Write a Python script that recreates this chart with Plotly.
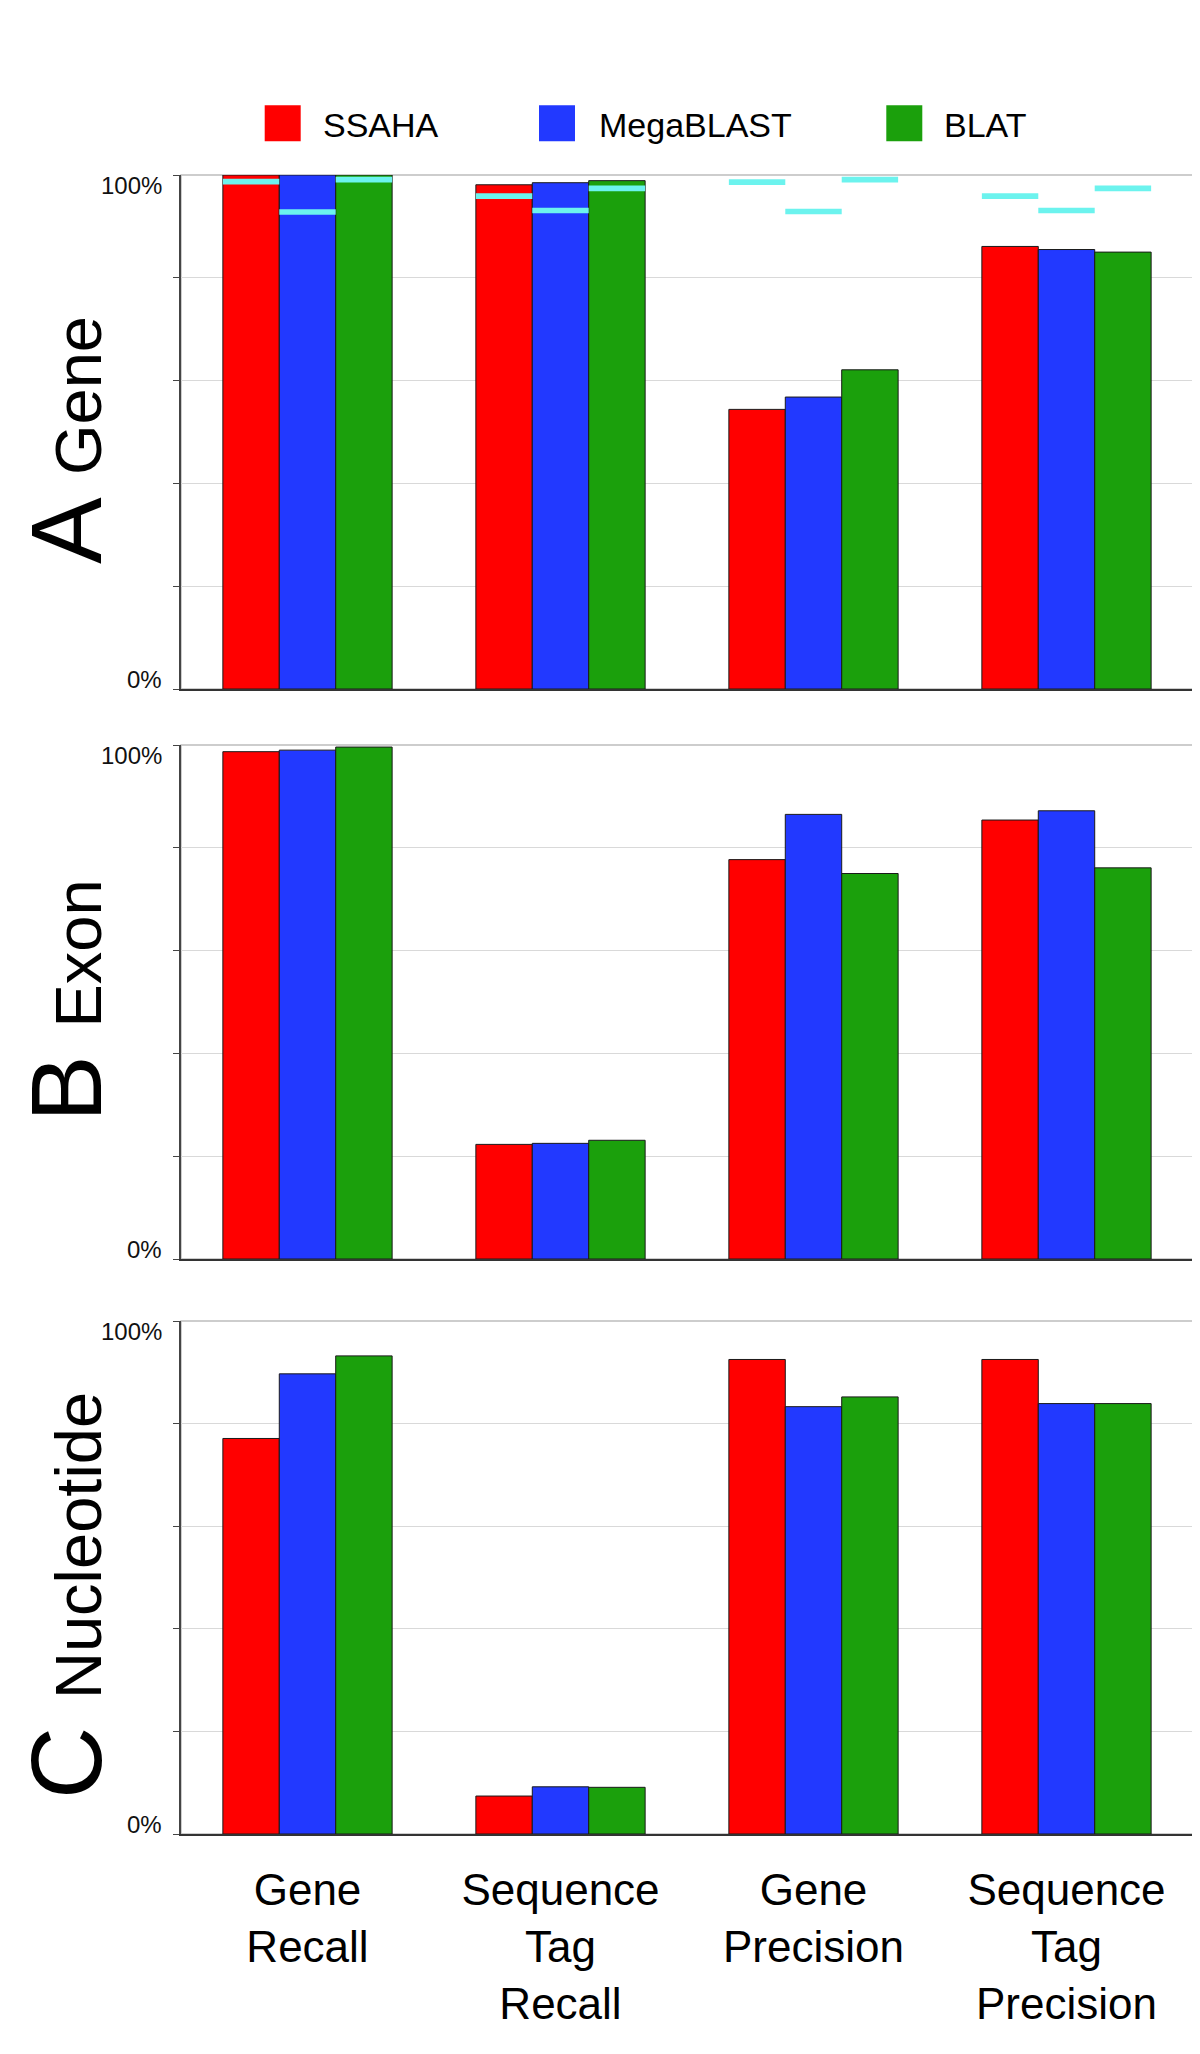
import plotly.graph_objects as go

categories = ["Gene<br>Recall", "Sequence<br>Tag<br>Recall", "Gene<br>Precision", "Sequence<br>Tag<br>Precision"]
tools = ["SSAHA", "MegaBLAST", "BLAT"]
tool_colors = ["#FF0000", "#2239FF", "#1BA00C"]
mark_color = "#6CF3EE"

# panel A - gene level, bars plus the cyan reference marks
gene_ssaha = [100.0, 98.1, 54.4, 86.1]
gene_megablast = [100.0, 98.5, 56.8, 85.5]
gene_blat = [100.0, 98.9, 62.1, 85.0]
gene_mark_ssaha = [98.7, 95.9, 98.6, 95.9]
gene_mark_megablast = [92.8, 93.1, 92.9, 93.1]
gene_mark_blat = [99.1, 97.4, 99.1, 97.4]

# panel B - exon level
exon_ssaha = [98.7, 22.3, 77.7, 85.4]
exon_megablast = [99.0, 22.5, 86.5, 87.2]
exon_blat = [99.6, 23.1, 75.0, 76.1]

# panel C - nucleotide level
nucleotide_ssaha = [77.1, 7.4, 92.5, 92.5]
nucleotide_megablast = [89.7, 9.2, 83.3, 83.9]
nucleotide_blat = [93.2, 9.1, 85.2, 83.9]

panel_letters = ["A", "B", "C"]
panel_names = ["Gene", "Exon", "Nucleotide"]
y_tickvals = [0, 20, 40, 60, 80, 100]
y_end_labels = ["0%", "100%"]

FONT = "Liberation Sans, Arial, Helvetica, sans-serif"

W, H = 1200, 2054
L, R, T, B = 173, 15, 167, 228
plot_w = W - L - R
plot_h = H - T - B


def paper_x(x):
    return (x - L) / plot_w


def paper_y(y):
    return (H - B - y) / plot_h


domains = [
    [paper_y(681), 1.0],
    [paper_y(1251), paper_y(737)],
    [0.0, paper_y(1313)],
]
label_centers = [432, 993, 1588]

panels = [
    [gene_ssaha, gene_megablast, gene_blat],
    [exon_ssaha, exon_megablast, exon_blat],
    [nucleotide_ssaha, nucleotide_megablast, nucleotide_blat],
]
gene_marks = [gene_mark_ssaha, gene_mark_megablast, gene_mark_blat]

fig = go.Figure()

for p, series in enumerate(panels):
    sfx = "" if p == 0 else str(p + 1)
    for tool, color, vals in zip(tools, tool_colors, series):
        fig.add_trace(go.Bar(
            x=categories, y=vals, name=tool, offsetgroup=tool,
            marker=dict(color=color, line=dict(color="#1a1a1a", width=1)),
            xaxis="x" + sfx, yaxis="y" + sfx, showlegend=False,
        ))

# thin cyan marks drawn as short bars in the same slot as each tool
mark_h = 1.1
for tool, marks in zip(tools, gene_marks):
    fig.add_trace(go.Bar(
        x=categories, y=[mark_h] * len(marks), base=[m - mark_h / 2 for m in marks],
        offsetgroup=tool, marker=dict(color=mark_color, line=dict(width=0)),
        xaxis="x", yaxis="y", showlegend=False, hoverinfo="skip",
    ))

shapes = []
annotations = []
for p in range(3):
    sfx = "" if p == 0 else str(p + 1)
    fig.layout["xaxis" + sfx] = dict(
        domain=[0, 1], anchor="y" + sfx, type="category", range=[-0.5, 3.5],
        showline=True, linecolor="#333333", linewidth=2, ticks="",
        showticklabels=(p == 2), showgrid=False,
        tickfont=dict(family=FONT, size=44, color="black"),
        ticklabelstandoff=16,
    )
    fig.layout["yaxis" + sfx] = dict(
        domain=domains[p], anchor="x" + sfx, range=[0, 100],
        tickvals=y_tickvals, showticklabels=False,
        showgrid=True, gridcolor="#D9D9D9", gridwidth=1, zeroline=False,
        showline=True, linecolor="#444444", linewidth=1.5,
        ticks="outside", ticklen=6, tickcolor="#444444",
    )
    # light frame round each plot area
    shapes.append(dict(
        type="rect", xref="x" + sfx + " domain", yref="y" + sfx + " domain",
        x0=0, x1=1, y0=0, y1=1, line=dict(color="#BDBDBD", width=1.5), layer="below",
    ))
    # the two end labels sit just inside the axis range
    for txt, yv in zip(y_end_labels, [1.8, 98.0]):
        annotations.append(dict(
            text=txt, xref="paper", yref="y" + sfx, x=paper_x(156), y=yv,
            xanchor="right", yanchor="middle", showarrow=False,
            font=dict(family=FONT, size=24, color="#111111"),
        ))
    annotations.append(dict(
        text="<span style='font-size:100px'>" + panel_letters[p] + " </span>" + panel_names[p],
        textangle=-90, xref="paper", yref="paper",
        x=paper_x(115), y=paper_y(label_centers[p]),
        xanchor="right", yanchor="middle", showarrow=False, borderpad=0,
        font=dict(family=FONT, size=65, color="black"),
    ))

# legend drawn by hand: big squares and labels above panel A
legend_sq_x = [256.7, 531.0, 878.3]
legend_txt_x = [312.7, 588.5, 934.0]
for tool, color, sx, tx in zip(tools, tool_colors, legend_sq_x, legend_txt_x):
    shapes.append(dict(
        type="rect", xref="paper", yref="paper",
        x0=paper_x(sx), x1=paper_x(sx + 36), y0=paper_y(133.3), y1=paper_y(97.3),
        fillcolor=color, line=dict(width=0),
    ))
    annotations.append(dict(
        text=tool, xref="paper", yref="paper", x=paper_x(tx), y=paper_y(117),
        xanchor="left", yanchor="middle", showarrow=False,
        font=dict(family=FONT, size=34, color="black"),
    ))

fig.update_layout(
    width=W, height=H,
    margin=dict(l=L, r=R, t=T, b=B),
    barmode="group", bargap=0.331, bargroupgap=0,
    plot_bgcolor="white", paper_bgcolor="white",
    shapes=shapes, annotations=annotations,
    font=dict(family=FONT),
    showlegend=False,
)

fig.write_html("out.html")
